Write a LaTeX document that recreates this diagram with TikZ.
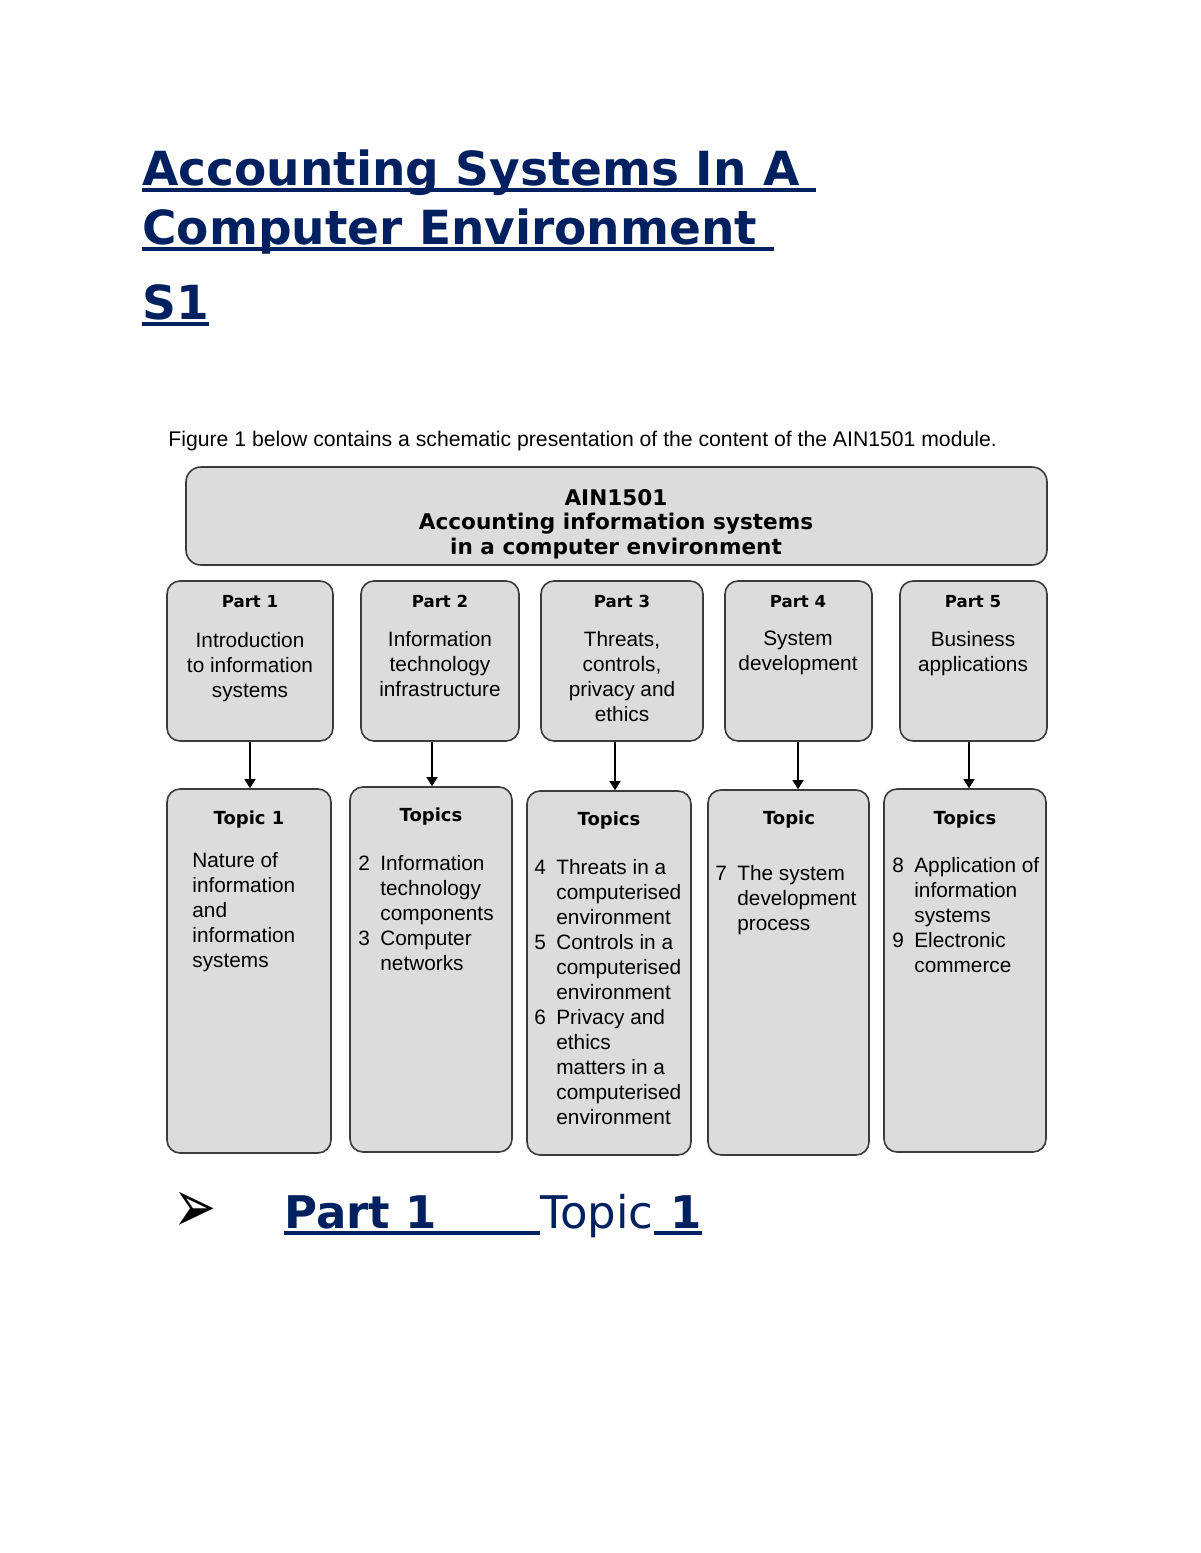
\documentclass[tikz,border=0pt]{standalone}
\usepackage{graphicx}
\usepackage{fontspec}
\setmainfont{Liberation Sans}
\newfontfamily\dejavu{DejaVu Sans}
\usetikzlibrary{arrows.meta}
\definecolor{navy}{RGB}{0,32,96}
\definecolor{boxfill}{RGB}{220,220,220}
\definecolor{boxline}{RGB}{60,60,60}
\tikzset{
  box/.style={draw=boxline,fill=boxfill,line width=0.8pt,rounded corners=6.5pt,inner sep=0pt},
  ttl/.style={font=\dejavu\bfseries\fontsize{23.5}{28}\selectfont,text=navy,inner sep=0pt,anchor=base west},
  bot/.style={font=\dejavu\fontsize{22.5}{27}\selectfont,text=navy,inner sep=0pt,anchor=base west},
  uline/.style={navy,line width=2.2pt},
  parthead/.style={font=\dejavu\bfseries\fontsize{8.3}{10}\selectfont,inner sep=0pt,anchor=base},
  topichead/.style={font=\dejavu\bfseries\fontsize{9}{11}\selectfont,inner sep=0pt,anchor=base},
  body/.style={font=\fontsize{10.4}{12.5}\selectfont,inner sep=0pt},
  arr/.style={-{Triangle[width=5.5pt,length=4.5pt]},line width=0.6pt}
}
\newcommand{\boxlines}[2][c]{\begin{tabular}[t]{@{}#1@{}}#2\end{tabular}}
\newcommand{\numlist}[1]{\begin{tabular}[t]{@{}l@{\hspace{5.2pt}}l@{}}#1\end{tabular}}
\begin{document}
\begin{tikzpicture}[x=0.5pt,y=-0.5pt]
    \useasboundingbox (0,0) rectangle (1200,1553);
    \node[ttl] (t1) at (142,185) {Accounting Systems In A\kern.348em};
    \node[ttl] (t2) at (142,244) {Computer Environment\kern.348em};
    \node[ttl] (t3) at (142,319) {S1};
    \draw[uline] ([yshift=-2.5pt]t1.base west) -- ([yshift=-2.5pt]t1.base east);
    \draw[uline] ([yshift=-2.5pt]t2.base west) -- ([yshift=-2.5pt]t2.base east);
    \draw[uline] ([yshift=-2.5pt]t3.base west) -- ([yshift=-2.5pt]t3.base east);
    \node[body,font=\fontsize{10.6}{12.5}\selectfont,anchor=base west] (capt) at (168,446)
        {Figure 1 below contains a schematic presentation of the content of the AIN1501 module.};
    \node[box,rounded corners=7.5pt,minimum width=430.5pt,minimum height=49pt] (mod) at (616.5,516) {};
    \node[font=\dejavu\bfseries\fontsize{10.8}{12.25}\selectfont,inner sep=0pt,anchor=base] (modt) at (616,505)
        {\boxlines{AIN1501\\Accounting information systems\\in a computer environment}};
    \node[box,minimum width=83pt,minimum height=80pt] (p1) at (250,661) {};
    \node[box,minimum width=79pt,minimum height=80pt] (p2) at (440,661) {};
    \node[box,minimum width=81pt,minimum height=80pt] (p3) at (622,661) {};
    \node[box,minimum width=73.5pt,minimum height=80pt] (p4) at (798.5,661) {};
    \node[box,minimum width=73.5pt,minimum height=80pt] (p5) at (973.5,661) {};
    \node[parthead] (p1h) at (250,607) {Part 1};
    \node[parthead] (p2h) at (440,607) {Part 2};
    \node[parthead] (p3h) at (622,607) {Part 3};
    \node[parthead] (p4h) at (798,607) {Part 4};
    \node[parthead] (p5h) at (973,607) {Part 5};
    \node[body,anchor=base] (p1t) at (250,647) {\boxlines{Introduction\\to information\\systems}};
    \node[body,anchor=base] (p2t) at (440,646) {\boxlines{Information\\technology\\infrastructure}};
    \node[body,anchor=base] (p3t) at (622,646) {\boxlines{Threats,\\controls,\\privacy and\\ethics}};
    \node[body,anchor=base] (p4t) at (798,645) {\boxlines{System\\development}};
    \node[body,anchor=base] (p5t) at (973,646) {\boxlines{Business\\applications}};
    \node[box,minimum width=82pt,minimum height=182pt] (tp1) at (249,971) {};
    \node[box,minimum width=81pt,minimum height=182.5pt] (tp2) at (431,969.5) {};
    \node[box,minimum width=82pt,minimum height=182pt] (tp3) at (609,973) {};
    \node[box,minimum width=80.5pt,minimum height=182.5pt] (tp4) at (788.5,972.5) {};
    \node[box,minimum width=81pt,minimum height=181.5pt] (tp5) at (965,970.5) {};
    \node[topichead] (tp1h) at (249,824) {Topic 1};
    \node[topichead] (tp2h) at (431,821) {Topics};
    \node[topichead] (tp3h) at (609,825) {Topics};
    \node[topichead] (tp4h) at (789,824) {Topic};
    \node[topichead] (tp5h) at (965,824) {Topics};
    \node[body,anchor=base west] (tp1t) at (192,867) {\boxlines[l]{Nature of\\information\\and\\information\\systems}};
    \node[body,anchor=base west] (tp2t) at (358,870) {\numlist{2&Information\\&technology\\&components\\3&Computer\\&networks}};
    \node[body,anchor=base west] (tp3t) at (534,874) {\numlist{4&Threats in a\\&computerised\\&environment\\5&Controls in a\\&computerised\\&environment\\6&Privacy and\\&ethics\\&matters in a\\&computerised\\&environment}};
    \node[body,anchor=base west] (tp4t) at (715,880) {\numlist{7&The system\\&development\\&process}};
    \node[body,anchor=base west] (tp5t) at (892,872) {\numlist{8&Application of\\&information\\&systems\\9&Electronic\\&commerce}};
    \coordinate (a1) at (250,0);
    \coordinate (a2) at (432,0);
    \coordinate (a3) at (615,0);
    \coordinate (a4) at (798,0);
    \coordinate (a5) at (969,0);
    \draw[arr] (a1 |- p1.south) -- (a1 |- tp1.north);
    \draw[arr] (a2 |- p2.south) -- (a2 |- tp2.north);
    \draw[arr] (a3 |- p3.south) -- (a3 |- tp3.north);
    \draw[arr] (a4 |- p4.south) -- (a4 |- tp4.north);
    \draw[arr] (a5 |- p5.south) -- (a5 |- tp5.north);
    \node[font=\dejavu\bfseries\fontsize{27}{27}\selectfont,inner sep=0pt,anchor=center] (bul) at (195,1212) {\scalebox{0.95}[1.4]{➢}};
    \node[bot,font=\dejavu\bfseries\fontsize{22.5}{27}\selectfont] (b1) at (284,1228) {Part 1};
    \node[bot] (b2) at (540,1228) {Topic};
    \node[bot,font=\dejavu\bfseries\fontsize{22.5}{27}\selectfont] (b3) at (b2.base east) {\ 1};
    \draw[uline] ([yshift=-2.5pt]b1.base west) -- ([yshift=-2.5pt]b2.base west);
    \draw[uline] ([yshift=-2.5pt]b3.base west) -- ([yshift=-2.5pt]b3.base east);
\end{tikzpicture}
\end{document}
